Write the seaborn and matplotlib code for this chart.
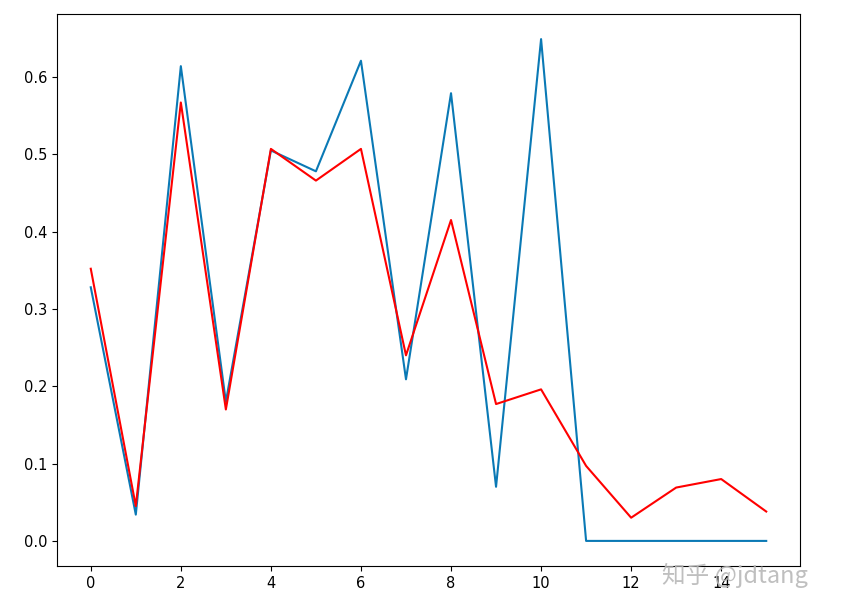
import matplotlib
matplotlib.use("Agg")
import matplotlib.pyplot as plt
import seaborn as sns

x = list(range(16))
red_vals = [0.352, 0.045, 0.567, 0.170, 0.507, 0.466, 0.507, 0.240, 0.415, 0.177, 0.196, 0.097, 0.030, 0.069, 0.080, 0.038]
blue_vals = [0.328, 0.034, 0.614, 0.180, 0.505, 0.478, 0.621, 0.209, 0.579, 0.070, 0.649, 0.0, 0.0, 0.0, 0.0, 0.0]

fig = plt.figure(figsize=(8.43, 6.12), dpi=100)
ax = fig.add_axes([57 / 843, 1 - 566 / 612, (800 - 57) / 843, (566 - 14) / 612])

sns.lineplot(x=x, y=blue_vals, color="#0a79b5", ax=ax)
sns.lineplot(x=x, y=red_vals, color="red", ax=ax)

ax.set_xticks(range(0, 16, 2))
ax.set_yticks([0.0, 0.1, 0.2, 0.3, 0.4, 0.5, 0.6])
ax.tick_params(labelsize=10.5)

# watermark from the source image
fig.text(662 / 843, 1 - 575 / 612, "知乎 @jdtang", fontsize=17, color="#b8b8b8",
         family=["Noto Sans CJK SC", "DejaVu Sans"], va="center", alpha=0.9)

fig.savefig("out.png", dpi=100)
